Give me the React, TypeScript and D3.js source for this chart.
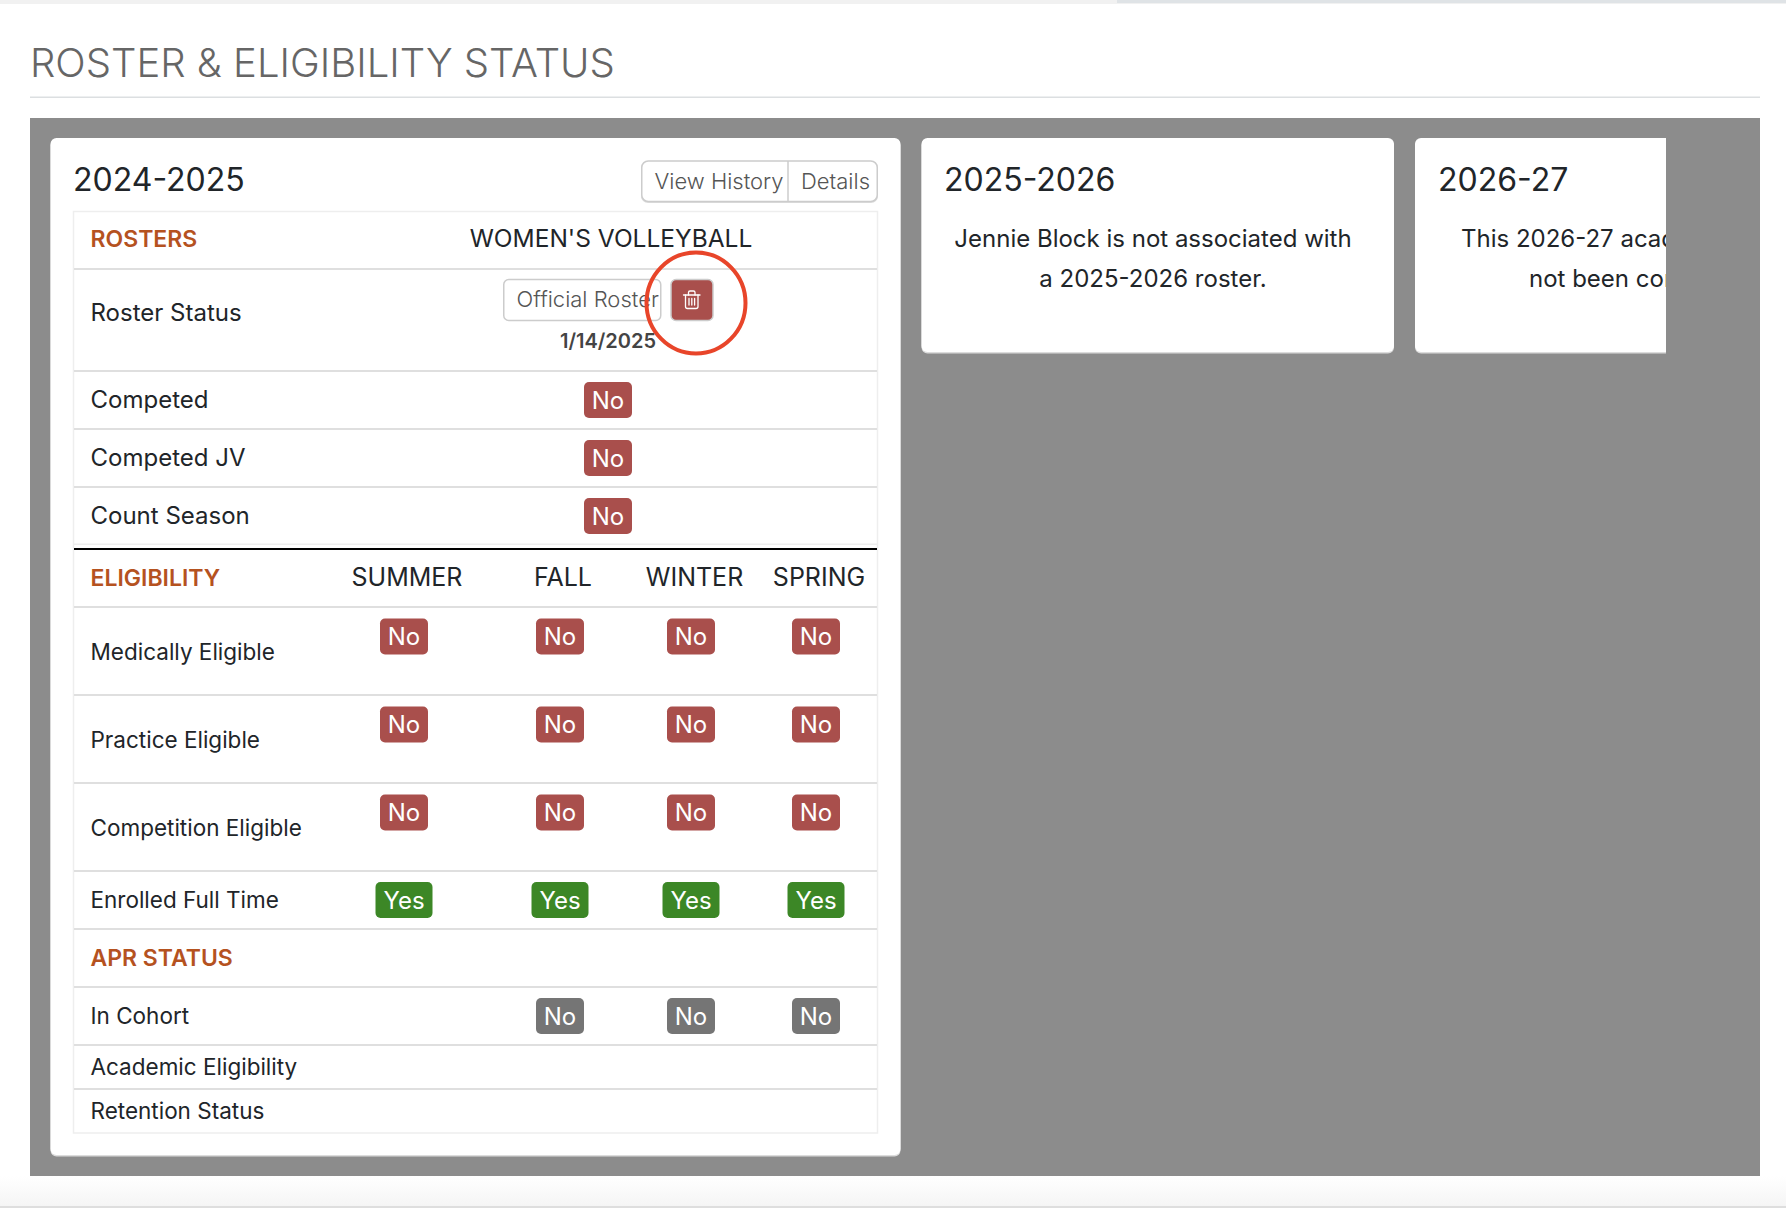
// App.tsx
import * as d3 from "d3";

const pageTitle = "ROSTER & ELIGIBILITY STATUS";
const years = ["2024-2025", "2025-2026", "2026-27"];
const seasons = ["SUMMER", "FALL", "WINTER", "SPRING"];
const rosterSport = "WOMEN'S VOLLEYBALL";
const rosterRows = ["Competed", "Competed JV", "Count Season"];
const rosterValues = ["No", "No", "No"];
const eligibilityRows = ["Medically Eligible", "Practice Eligible", "Competition Eligible", "Enrolled Full Time"];
const eligibilityValues = [
  ["No", "No", "No", "No"],
  ["No", "No", "No", "No"],
  ["No", "No", "No", "No"],
  ["Yes", "Yes", "Yes", "Yes"],
];
const cohortSeasons = ["FALL", "WINTER", "SPRING"];
const cohortValues = ["No", "No", "No"];
const aprRows = ["Academic Eligibility", "Retention Status"];
const noRosterLines = ["Jennie Block is not associated with", "a 2025-2026 roster."];
const notConfiguredLines = ["This 2026-27 academic year has", "not been configured."];

const allRows = [
  "ROSTERS", "Roster Status", ...rosterRows,
  "ELIGIBILITY", ...eligibilityRows,
  "APR STATUS", "In Cohort", ...aprRows,
];

// row edges and baselines
const rowBottom = d3.scaleOrdinal<string, number>().domain(allRows)
  .range([269, 371, 429, 487, 545, 607, 695, 783, 871, 929, 987, 1045, 1089, 1133]);
const rowBase = d3.scaleOrdinal<string, number>().domain(allRows)
  .range([247, 321, 408, 466, 524, 586, 660, 748, 836, 908, 966, 1024, 1075, 1119]);
const seasonX = d3.scaleOrdinal<string, number>().domain(seasons).range([404, 560, 691, 816]);
const seasonHeadX = d3.scaleOrdinal<string, number>().domain(seasons).range([407, 563, 694.5, 819]);

const font = "Inter, sans-serif";
const ink = "#212529";
const rust = "#b5521f";
const badgeFill: Record<string, string> = { No: "#a94f4c", Yes: "#3c8726", grey: "#757575" };

function Badge({ cx, cy, value, grey }: { cx: number; cy: number; value: string; grey?: boolean }) {
  const w = value === "Yes" ? 57 : 48;
  return (
    <g>
      <rect x={cx - w / 2} y={cy - 18} width={w} height={36} rx={5} fill={grey ? badgeFill.grey : badgeFill[value]} />
      <text x={cx} y={cy + 8.5} textAnchor="middle" fontSize={24} fill="#fff" fontFamily={font}>{value}</text>
    </g>
  );
}

function Card({ x, y, w, h }: { x: number; y: number; w: number; h: number }) {
  return (
    <g>
      <rect x={x} y={y + 1.5} width={w} height={h} rx={6} fill="#dcdcdc" />
      <rect x={x} y={y} width={w} height={h} rx={6} fill="#fff" />
    </g>
  );
}

function RowLabel({ name, size, weight, fill }: { name: string; size?: number; weight?: number; fill?: string }) {
  return (
    <text x={90.5} y={rowBase(name)} fontSize={size ?? 24} fontWeight={weight ?? 400} fill={fill ?? ink} fontFamily={font}>
      {name}
    </text>
  );
}

export default function App() {
  const badgeCy = (name: string) => rowBase(name) - 8;
  const topCy = (name: string) => rowBase(name) - 23.5;

  return (
    <svg width={1786} height={1208} style={{ position: "absolute", left: 0, top: 0 }}>
      <defs>
        <linearGradient id="foot" x1="0" x2="0" y1="0" y2="1">
          <stop offset="0" stopColor="#ffffff" />
          <stop offset="1" stopColor="#f5f5f5" />
        </linearGradient>
        <clipPath id="cut">
          <rect x={1415} y={130} width={251} height={230} />
        </clipPath>
      </defs>

      {/* page */}
      <rect width={1786} height={1208} fill="#fff" />
      <rect width={1786} height={4} fill="#f1f1f1" />
      <rect x={1117} width={669} height={3} fill="#dfe3e6" />
      <rect y={1176} width={1786} height={30} fill="url(#foot)" />
      <rect y={1206} width={1786} height={2} fill="#dedede" />

      <text x={30} y={77} fontSize={40} fontWeight={300} fill="#666" fontFamily={font}>{pageTitle}</text>
      <rect x={30} y={96.5} width={1730} height={1.5} fill="#dcdfe1" />
      <rect x={30} y={118} width={1730} height={1058} fill="#8c8c8c" />

      {/* first card */}
      <Card x={50.5} y={138} w={850} h={1017} />
      <text x={73} y={191} fontSize={32} fill={ink} fontFamily={font}>{years[0]}</text>

      <rect x={641} y={162} width={237} height={41} rx={7} fill="#ddd" />
      <rect x={641.75} y={161} width={235.5} height={40.5} rx={6.5} fill="#fff" stroke="#ccc" strokeWidth={1.5} />
      <line x1={788} x2={788} y1={161} y2={202} stroke="#ccc" strokeWidth={1.5} />
      <text x={654.5} y={189} fontSize={22} fontWeight={300} fill="#555" fontFamily={font}>View History</text>
      <text x={801} y={189} fontSize={22} fontWeight={300} fill="#555" fontFamily={font}>Details</text>

      <rect x={73.5} y={211.5} width={804} height={921.5} fill="none" stroke="#eeeeee" strokeWidth={1.5} />
      {allRows.slice(0, -1).map((name) =>
        name === "Count Season" ? (
          <g key={name}>
            <rect x={74} y={543.5} width={803} height={1.5} fill="#eeeeee" />
            <rect x={74} y={548} width={803} height={2} fill="#000" />
          </g>
        ) : (
          <rect key={name} x={74} y={rowBottom(name) - 1} width={803} height={2} fill="#dfdfdf" />
        )
      )}

      {/* rosters */}
      <RowLabel name="ROSTERS" size={23} weight={600} fill={rust} />
      <text x={611} y={rowBase("ROSTERS")} textAnchor="middle" fontSize={24.5} fill={ink} fontFamily={font}>{rosterSport}</text>

      <RowLabel name="Roster Status" />
      <rect x={503.75} y={279.5} width={157} height={41} rx={5} fill="#fff" stroke="#ccc" strokeWidth={1.5} />
      <text x={516.5} y={307} fontSize={22} fontWeight={300} fill="#555" fontFamily={font}>Official Roster</text>
      <rect x={671} y={279.5} width={42} height={41} rx={5} fill="#a94f4c" stroke="#ccc" strokeWidth={1.5} />
      <g fill="none" stroke="#fff" strokeWidth={1.3} strokeLinecap="round" strokeLinejoin="round">
        <path d="M683.5 295H700" />
        <path d="M688.5 295V292.5Q688.5 291 690 291H693.5Q695 291 695 292.5V295" />
        <path d="M685.5 295V306.5Q685.5 308.5 687.5 308.5H696Q698 308.5 698 306.5V295" />
        <path d="M689 298.5V305M691.8 298.5V305M694.6 298.5V305" />
      </g>
      <text x={608} y={348} textAnchor="middle" fontSize={20} fontWeight={600} fill="#444" fontFamily={font}>1/14/2025</text>
      <ellipse cx={696} cy={303} rx={49.5} ry={50.5} fill="none" stroke="#e8452a" strokeWidth={4} />

      {rosterRows.map((name, i) => (
        <g key={name}>
          <RowLabel name={name} />
          <Badge cx={608} cy={badgeCy(name)} value={rosterValues[i]} />
        </g>
      ))}

      {/* eligibility */}
      <RowLabel name="ELIGIBILITY" size={23} weight={600} fill={rust} />
      {seasons.map((s) => (
        <text key={s} x={seasonHeadX(s)} y={rowBase("ELIGIBILITY")} textAnchor="middle" fontSize={25} fill={ink} fontFamily={font}>{s}</text>
      ))}
      {eligibilityRows.map((name, r) => (
        <g key={name}>
          <RowLabel name={name} size={22.5} />
          {seasons.map((s, c) => (
            <Badge
              key={s}
              cx={seasonX(s)}
              cy={eligibilityValues[r][c] === "Yes" ? badgeCy(name) : topCy(name)}
              value={eligibilityValues[r][c]}
            />
          ))}
        </g>
      ))}

      {/* apr */}
      <RowLabel name="APR STATUS" size={23} weight={600} fill={rust} />
      <RowLabel name="In Cohort" size={22.5} />
      {cohortSeasons.map((s, c) => (
        <Badge key={s} cx={seasonX(s)} cy={badgeCy("In Cohort")} value={cohortValues[c]} grey />
      ))}
      {aprRows.map((name) => (
        <RowLabel key={name} name={name} size={22.5} />
      ))}

      {/* second card */}
      <Card x={921.5} y={138} w={472.5} h={214} />
      <text x={944} y={191} fontSize={32} fill={ink} fontFamily={font}>{years[1]}</text>
      {noRosterLines.map((t, i) => (
        <text key={t} x={1153} y={247 + i * 40} textAnchor="middle" fontSize={24} fill={ink} fontFamily={font}>{t}</text>
      ))}

      {/* third card, cut off on the right */}
      <g clipPath="url(#cut)">
        <Card x={1415} y={138} w={472} h={214} />
        <text x={1438} y={191} fontSize={32} fill={ink} fontFamily={font}>{years[2]}</text>
        <text x={1461} y={247} fontSize={24} fill={ink} fontFamily={font}>{notConfiguredLines[0]}</text>
        <text x={1529} y={287} fontSize={24} fill={ink} fontFamily={font}>{notConfiguredLines[1]}</text>
      </g>
    </svg>
  );
}
